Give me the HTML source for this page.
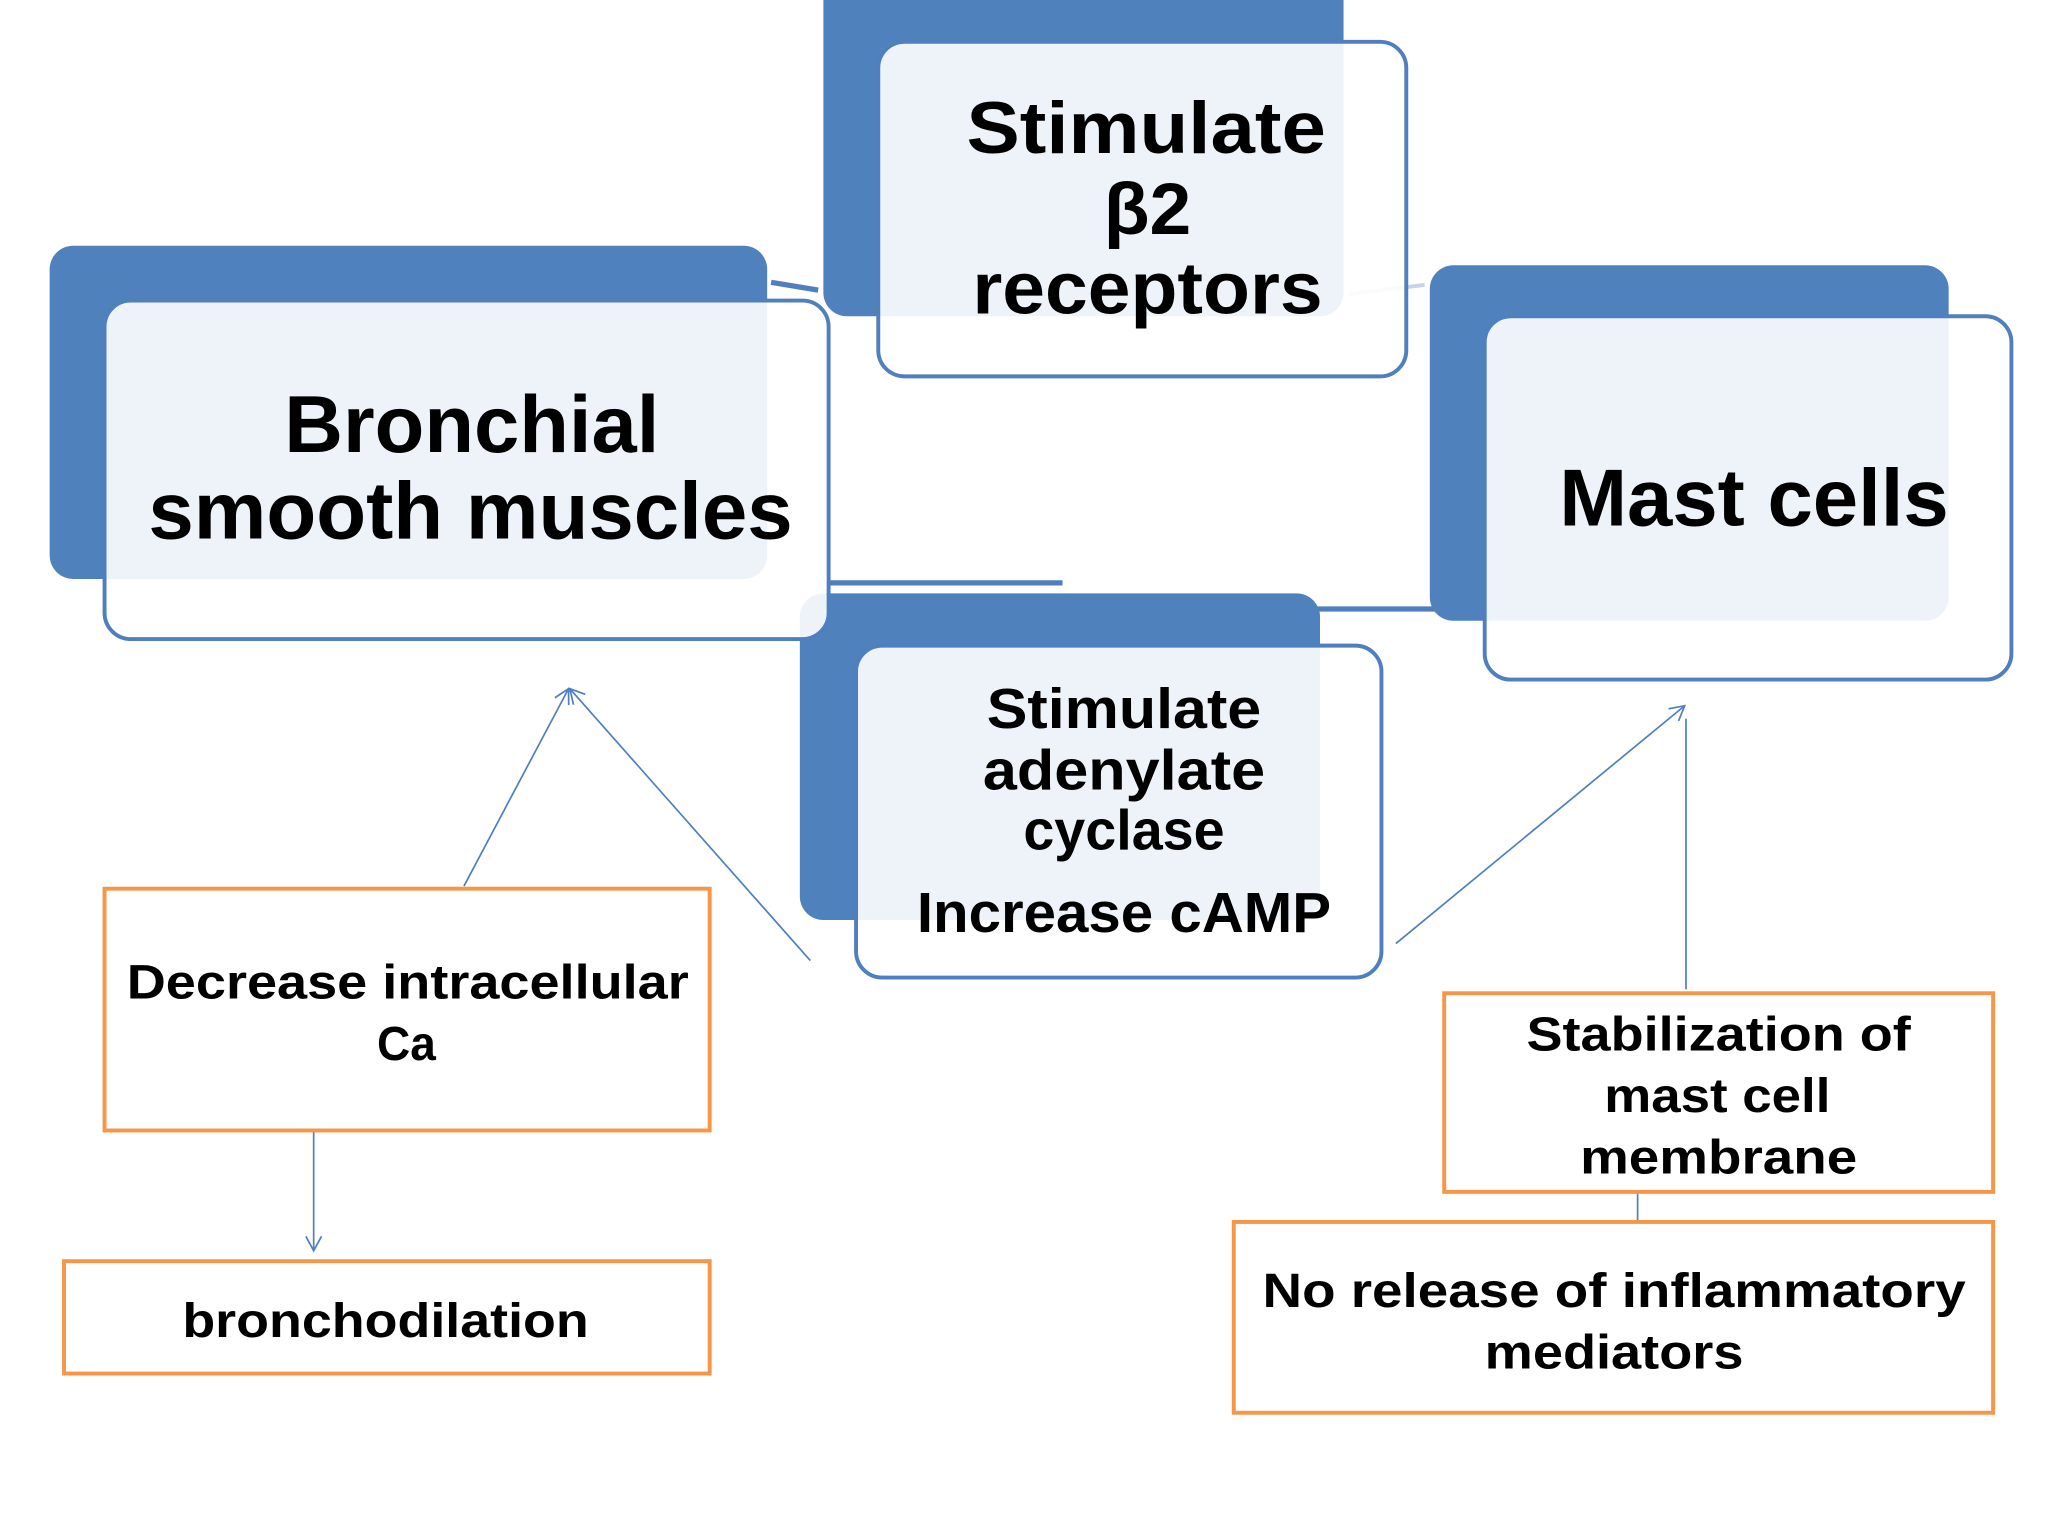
<!DOCTYPE html>
<html><head><meta charset="utf-8"><style>
html,body{margin:0;padding:0;background:#fff;}
svg{display:block;}
text{font-family:"Liberation Sans",sans-serif;font-weight:bold;fill:#000;text-anchor:middle;}
</style></head><body>
<svg width="2048" height="1536" viewBox="0 0 1567 1175.3" preserveAspectRatio="none" xmlns="http://www.w3.org/2000/svg">
<defs><marker id="a" markerWidth="14" markerHeight="14" refX="12" refY="7" orient="auto" markerUnits="userSpaceOnUse"><path d="M1,1 L12,7 L1,13" fill="none" stroke="#4f7fbf" stroke-width="1.3"/></marker></defs>
<line x1="590" y1="216" x2="626" y2="222" stroke="#4f7fbf" stroke-width="4"/>
<line x1="1032" y1="225" x2="1090" y2="218" stroke="#c8d4e6" stroke-width="3"/>
<line x1="634" y1="446" x2="813" y2="446" stroke="#4f7fbf" stroke-width="4"/>
<line x1="865" y1="466" x2="1100" y2="466" stroke="#4f7fbf" stroke-width="4"/>
<rect x="630" y="-20" width="398" height="262" rx="18" fill="#4f81bd"/>
<rect x="38" y="188" width="549" height="255" rx="18" fill="#4f81bd"/>
<rect x="1094" y="203" width="397" height="272" rx="18" fill="#4f81bd"/>
<rect x="612" y="454" width="398" height="250" rx="18" fill="#4f81bd"/>
<rect x="672" y="32" width="404" height="256" rx="20" fill="#fff" fill-opacity="0.9" stroke="#4f7fbf" stroke-width="3"/>
<rect x="80" y="230" width="554" height="259" rx="20" fill="#fff" fill-opacity="0.9" stroke="#4f7fbf" stroke-width="3"/>
<rect x="1136" y="242" width="403" height="278" rx="20" fill="#fff" fill-opacity="0.9" stroke="#4f7fbf" stroke-width="3"/>
<rect x="655" y="494" width="402" height="254" rx="20" fill="#fff" fill-opacity="0.9" stroke="#4f7fbf" stroke-width="3"/>
<g lengthAdjust="spacingAndGlyphs">
<text x="877" y="117" font-size="56" textLength="275" lengthAdjust="spacingAndGlyphs">Stimulate</text>
<text x="878" y="179" font-size="56" textLength="67" lengthAdjust="spacingAndGlyphs">β2</text>
<text x="878" y="240" font-size="56" textLength="268" lengthAdjust="spacingAndGlyphs">receptors</text>
<text x="361" y="346" font-size="62" textLength="287" lengthAdjust="spacingAndGlyphs">Bronchial</text>
<text x="360" y="412" font-size="62" textLength="493" lengthAdjust="spacingAndGlyphs">smooth muscles</text>
<text x="1342" y="402" font-size="62" textLength="298" lengthAdjust="spacingAndGlyphs">Mast cells</text>
<text x="860" y="557" font-size="43" textLength="210" lengthAdjust="spacingAndGlyphs">Stimulate</text>
<text x="860" y="604" font-size="43" textLength="216" lengthAdjust="spacingAndGlyphs">adenylate</text>
<text x="860" y="650" font-size="43" textLength="154" lengthAdjust="spacingAndGlyphs">cyclase</text>
<text x="860" y="713" font-size="43" textLength="317" lengthAdjust="spacingAndGlyphs">Increase cAMP</text>
</g>
<g stroke="#4f7fbf" stroke-width="1.3" fill="none">
<line x1="355" y1="678" x2="435" y2="527" marker-end="url(#a)"/>
<line x1="620" y1="735" x2="436" y2="527" marker-end="url(#a)"/>
<line x1="1068" y1="722" x2="1289" y2="540" marker-end="url(#a)"/>
<line x1="1290" y1="757" x2="1290" y2="550"/>
<line x1="240" y1="866" x2="240" y2="957" marker-end="url(#a)"/>
<line x1="1253" y1="912" x2="1253" y2="935"/>
</g>
<g fill="#fff" stroke="#f79646" stroke-width="3">
<rect x="80" y="680" width="463" height="185"/>
<rect x="49" y="965" width="494" height="86"/>
<rect x="1105" y="760" width="420" height="152"/>
<rect x="944" y="935" width="581" height="146"/>
</g>
<text x="312" y="764" font-size="37" textLength="430" lengthAdjust="spacingAndGlyphs">Decrease intracellular</text>
<text x="311" y="811" font-size="37" textLength="45" lengthAdjust="spacingAndGlyphs">Ca</text>
<text x="295" y="1023" font-size="37" textLength="311" lengthAdjust="spacingAndGlyphs">bronchodilation</text>
<text x="1315" y="804" font-size="37" textLength="294" lengthAdjust="spacingAndGlyphs">Stabilization of</text>
<text x="1314" y="851" font-size="37" textLength="173" lengthAdjust="spacingAndGlyphs">mast cell</text>
<text x="1315" y="898" font-size="37" textLength="212" lengthAdjust="spacingAndGlyphs">membrane</text>
<text x="1235" y="1000" font-size="37" textLength="538" lengthAdjust="spacingAndGlyphs">No release of inflammatory</text>
<text x="1235" y="1047" font-size="37" textLength="198" lengthAdjust="spacingAndGlyphs">mediators</text>
</svg>
</body></html>
